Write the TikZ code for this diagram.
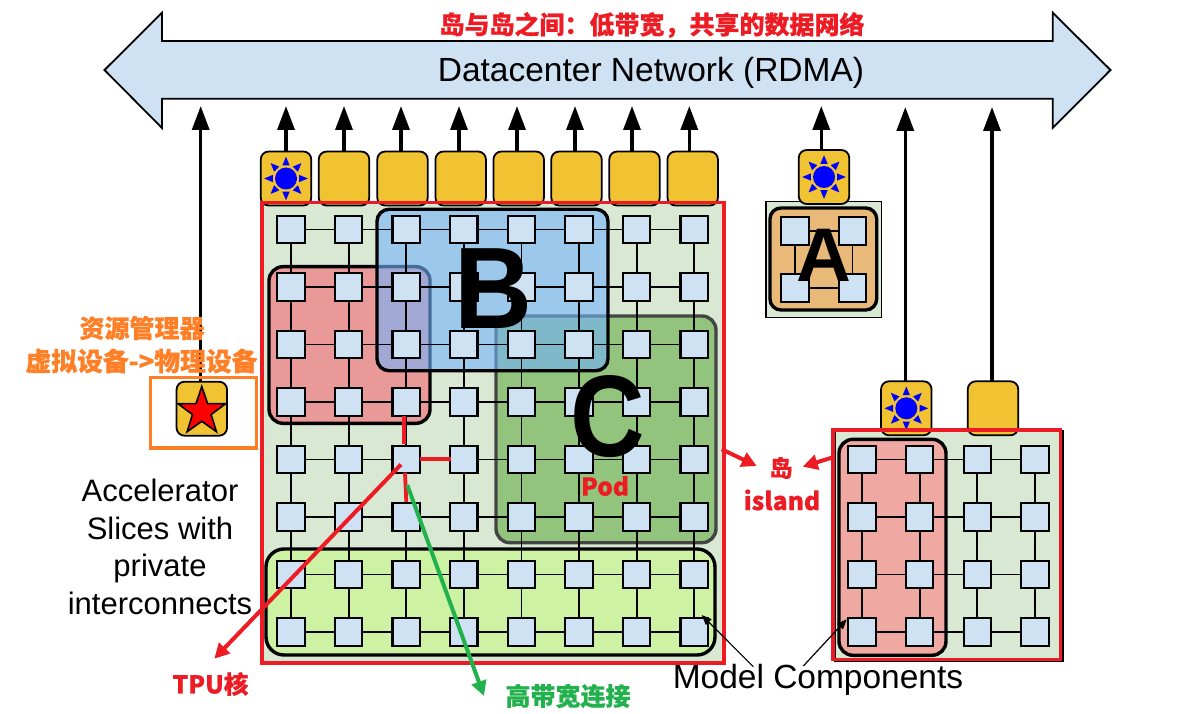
\documentclass[tikz,border=0pt]{standalone}
\usepackage{fontspec}
\usepackage{graphicx}
\setmainfont{Liberation Sans}
\newfontfamily\cjk{Noto Sans CJK SC}[BoldFeatures={FakeBold=0.6}]
\usetikzlibrary{arrows.meta,shapes.geometric}
\definecolor{boxblue}{HTML}{CFE2F3}
\definecolor{islegreen}{HTML}{D9E8D3}
\definecolor{goldc}{HTML}{F1C232}
\definecolor{redc}{HTML}{ED1C24}
\definecolor{orangec}{HTML}{FF7F27}
\definecolor{greenc}{HTML}{22B14C}
\definecolor{podred}{HTML}{EA9999}
\definecolor{podred2}{HTML}{EFA9A2}
\definecolor{podblue}{HTML}{73B3FC}
\definecolor{podgreen}{HTML}{93C47D}
\definecolor{podlime}{HTML}{CDF2A4}
\definecolor{podorange}{HTML}{E9B97A}
\definecolor{cedge}{HTML}{444444}
\tikzset{
  chip/.style={draw=black,line width=2.2pt,fill=boxblue,minimum size=27.3pt,inner sep=0pt,outer sep=0pt},
  gold/.style={draw=black,line width=1.8pt,fill=goldc,rounded corners=8pt,minimum width=50.5pt,minimum height=54pt,inner sep=0pt,outer sep=0pt},
  link/.style={draw=black,line width=1.8pt},
  island/.style={draw=black,line width=1.2pt,fill=islegreen},
  redbox/.style={draw=redc,line width=3.4pt},
  pod/.style={draw=black,line width=3.4pt,rounded corners=14pt},
  uparrow/.style={line width=3.4pt,-{Triangle[length=24pt,width=17pt]}},
  redstub/.style={draw=redc,line width=3.8pt},
  redarrow/.style={draw=redc,line width=4pt,-{Triangle[length=15pt,width=15pt]}},
  greenarrow/.style={draw=greenc,line width=4pt,-{Triangle[length=15pt,width=15pt]}},
  thinarrow/.style={draw=black,line width=1.2pt,-{Triangle[length=10pt,width=8pt]}},
  bigletter/.style={font=\fontsize{116}{116}\selectfont\bfseries,inner sep=0pt,text=black},
  bigtext/.style={font=\fontsize{33.5}{38}\selectfont,inner sep=0pt,text=black},
  cjkred/.style={font=\cjk\fontsize{25}{30}\selectfont\bfseries,inner sep=0pt,text=redc},
  cjkorange/.style={font=\cjk\fontsize{25}{32}\selectfont\bfseries,inner sep=0pt,text=orangec,align=center},
  cjkgreen/.style={font=\cjk\fontsize{25}{30}\selectfont\bfseries,inner sep=0pt,text=greenc},
  sun/.pic={
    \fill[blue] (0,0) circle (11);
    \foreach \a in {0,45,...,315}{
      \fill[blue,rotate=\a] (0,-21.8) -- (3.6,-13.2) -- (-3.6,-13.2) -- cycle;
    }
  }
}
\begin{document}
\begin{tikzpicture}[x=1pt,y=-1pt]
\useasboundingbox (0,0) rectangle (1189,714);

% datacenter band
\draw[draw=black,line width=1.8pt,fill=boxblue,line join=miter]
  (104.5,70) -- (162,12.7) -- (162,41) -- (1052.7,41) -- (1052.7,12.7) -- (1110.5,70)
  -- (1052.7,128) -- (1052.7,98.7) -- (162,98.7) -- (162,128) -- cycle;
\node[bigtext] (dcn) at (651,72.5) {Datacenter Network (RDMA)};
\node[cjkred] (dcntitle) at (652,25) {岛与岛之间：低带宽，共享的数据网络};

% island backgrounds
\draw[island] (262,202.3) rectangle (724,663);
\draw[island] (835,431) rectangle (1063,661);
\draw[island] (766,201.7) rectangle (881.3,317.3);

% pods under the grid
\draw[pod,fill=podred] (269,266.7) rectangle (430,423.3);
\draw[pod,draw=cedge,fill=podgreen] (496,316) rectangle (716,542.7);
\fill[podblue,fill opacity=0.6,rounded corners=12pt] (377,209.3) rectangle (608,370.7);
\draw[pod,rounded corners=12pt] (377,209.3) rectangle (608,370.7);
\draw[pod,rounded corners=18pt,fill=podlime] (266,549) rectangle (715,655);
\draw[pod,fill=podred2] (839,439.3) rectangle (946,655.3);
\draw[pod,rounded corners=11pt,fill=podorange] (770,208) rectangle (876.7,310);

% gold gateways
\foreach \n/\x in {1/286,2/344,3/402.5,4/460.7,5/518.7,6/576.5,7/634.5,8/692.7}{
  \node[gold] (t\n) at (\x,178.5) {};
}
\node[gold] (ta) at (824,177) {};
\node[gold] (tr1) at (906.3,408.3) {};
\node[gold] (tr2) at (993,408.3) {};
\node[gold] (ts) at (201.8,408.7) {};
\pic at (t1.center) {sun};
\pic at (ta.center) {sun};
\pic at (tr1.center) {sun};
\node[star,star points=5,star point ratio=2.55,minimum size=50pt,inner sep=0pt,draw=black,line width=1.6pt,fill=red] (sstar) at (201.8,411.5) {};

% uplinks
\foreach \n/\x in {1/286,2/344,3/401,4/459,5/517,6/575,7/632,8/689.3}{
  \coordinate (u\n) at (\x,106);
  \draw[uparrow] (u\n |- t\n.north) -- (u\n);
}
\coordinate (ua) at (821.3,106);
\draw[uparrow] (ua |- ta.north) -- (ua);
\coordinate (ur1) at (905.3,107);
\draw[uparrow] (ur1 |- tr1.north) -- (ur1);
\coordinate (ur2) at (992,107);
\draw[uparrow] (ur2 |- tr2.north) -- (ur2);
\coordinate (us) at (200.7,106);
\draw[uparrow] (us |- ts.north) -- (us);

% big grid
\foreach \i in {1,...,8}{
  \foreach \j in {1,...,8}{
    \pgfmathsetmacro{\px}{291+57.6*(\i-1)}
    \pgfmathsetmacro{\py}{229.5+57.5*(\j-1)}
    \node[chip] (g-\i-\j) at (\px,\py) {};
  }
}
\foreach \i/\k in {1/2,2/3,3/4,4/5,5/6,6/7,7/8}{
  \foreach \j in {1,...,8}{
    \draw[link] (g-\i-\j) -- (g-\k-\j);
    \draw[link] (g-\j-\i) -- (g-\j-\k);
  }
}

% right grid
\foreach \i/\px in {1/862,2/919.7,3/977.3,4/1035}{
  \foreach \j/\py in {1/459.5,2/517,3/574.5,4/632}{
    \node[chip] (r-\i-\j) at (\px,\py) {};
  }
}
\foreach \i/\k in {1/2,2/3,3/4}{
  \foreach \j in {1,...,4}{
    \draw[link] (r-\i-\j) -- (r-\k-\j);
  }
  \foreach \j in {1,...,4}{
    \draw[link] (r-\j-\i) -- (r-\j-\k);
  }
}

% A grid
\node[chip] (a-1-1) at (795,231) {};
\node[chip] (a-2-1) at (852.5,231) {};
\node[chip] (a-1-2) at (795,288) {};
\node[chip] (a-2-2) at (852.5,288) {};
\draw[link] (a-1-1) -- (a-2-1);
\draw[link] (a-1-2) -- (a-2-2);
\draw[link] (a-1-1) -- (a-1-2);
\draw[link] (a-2-1) -- (a-2-2);

% island outlines
\draw[redbox] (262,202.3) rectangle (724,663);
\draw[redbox] (833,430) rectangle (1060.7,659.3);

% letters
\node[bigletter] (lb) at (493,288.5) {\scalebox{0.93}[1]{B}};
\node[bigletter] (lc) at (607.5,417) {\scalebox{0.89}[1]{C}};
\node[bigletter,font=\fontsize{76}{76}\selectfont\bfseries] (la) at (824,255) {A};

% resource manager
\draw[draw=orangec,line width=3.2pt] (150.5,377.8) rectangle (256.5,448);
\node[cjkorange] (rm1) at (142,328) {资源管理器};
\node[cjkorange,font=\cjk\fontsize{25.8}{32}\selectfont\bfseries] (rm2) at (141.5,361) {虚拟设备->物理设备};

% TPU links
\coordinate (st1) at (404,415.7);
\coordinate (st2) at (404,444.3);
\coordinate (st3) at (420,459);
\coordinate (st4) at (450.7,459);
\coordinate (st5) at (405,472.7);
\coordinate (st6) at (406.3,502);
\draw[redstub] (st1) -- (st2);
\draw[redstub] (st3) -- (st4);
\draw[redstub] (st5) -- (st6);
\coordinate (tpustart) at (401,464.5);
\coordinate (tputip) at (214.3,658.7);
\coordinate (hbstart) at (407.3,485);
\coordinate (hbtip) at (484,696);
\draw[redarrow] (tpustart) -- (tputip);
\draw[greenarrow] (hbstart) -- (hbtip);
\node[cjkred,font=\cjk\fontsize{24.6}{28}\selectfont\bfseries] (tpu) at (210.5,684) {TPU核};
\node[cjkgreen] (hbw) at (568,696) {高带宽连接};
\node[cjkred,font=\cjk\fontsize{24.4}{28}\selectfont\bfseries] (podl) at (605,486) {Pod};

% island label
\node[cjkred,font=\cjk\fontsize{23}{28}\selectfont\bfseries] (isl1) at (781,468) {岛};
\node[cjkred,font=\cjk\fontsize{24.8}{28}\selectfont\bfseries] (isl2) at (782,500) {island};
\coordinate (ia) at (721.7,449.3);
\coordinate (ib) at (756.7,466);
\coordinate (ic) at (833,457.3);
\coordinate (id) at (802.7,466.7);
\draw[redarrow] (ia) -- (ib);
\draw[redarrow] (ic) -- (id);

% texts
\node[bigtext,font=\fontsize{31}{37.4}\selectfont,align=center] (acc) at (160,547) {Accelerator\\Slices with\\private\\interconnects};
\node[bigtext] (mc) at (818,680) {Model Components};
\coordinate (m1) at (753.3,666.7);
\coordinate (m2) at (701.7,615);
\coordinate (m3) at (803.3,666);
\coordinate (m4) at (846.7,619.3);
\draw[thinarrow] (m1) -- (m2);
\draw[thinarrow] (m3) -- (m4);
\end{tikzpicture}
\end{document}
